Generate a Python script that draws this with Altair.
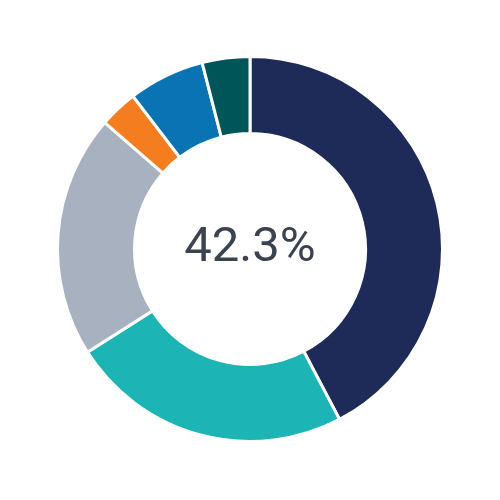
import altair as alt
import pandas as pd

categories = ["A", "B", "C", "D", "E", "F"]
values = [42.3, 23.7, 20.4, 3.2, 6.4, 4.0]
colors = ["#1e2b58", "#1cb4b5", "#a7b1c0", "#f47d20", "#0a73b4", "#005558"]
center_label = "42.3%"

df = pd.DataFrame({"cat": categories, "value": values, "order": list(range(len(values)))})

arcs = alt.Chart(df).mark_arc(
    outerRadius=192.5, innerRadius=115.5, stroke="white", strokeWidth=3
).encode(
    theta=alt.Theta("value:Q", stack=True),
    order=alt.Order("order:Q"),
    color=alt.Color("cat:N", scale=alt.Scale(domain=categories, range=colors), legend=None),
)

text = alt.Chart(pd.DataFrame({"t": [center_label]})).mark_text(
    font="Roboto", fontSize=49, color="#3c4350", baseline="middle", align="center", dy=-3
).encode(text="t:N")

chart = alt.layer(arcs, text).properties(
    width=484, height=482, padding=0, autosize="none"
).configure_view(stroke=None)

chart.save("out.html", embed_options={"renderer": "svg", "actions": False})
